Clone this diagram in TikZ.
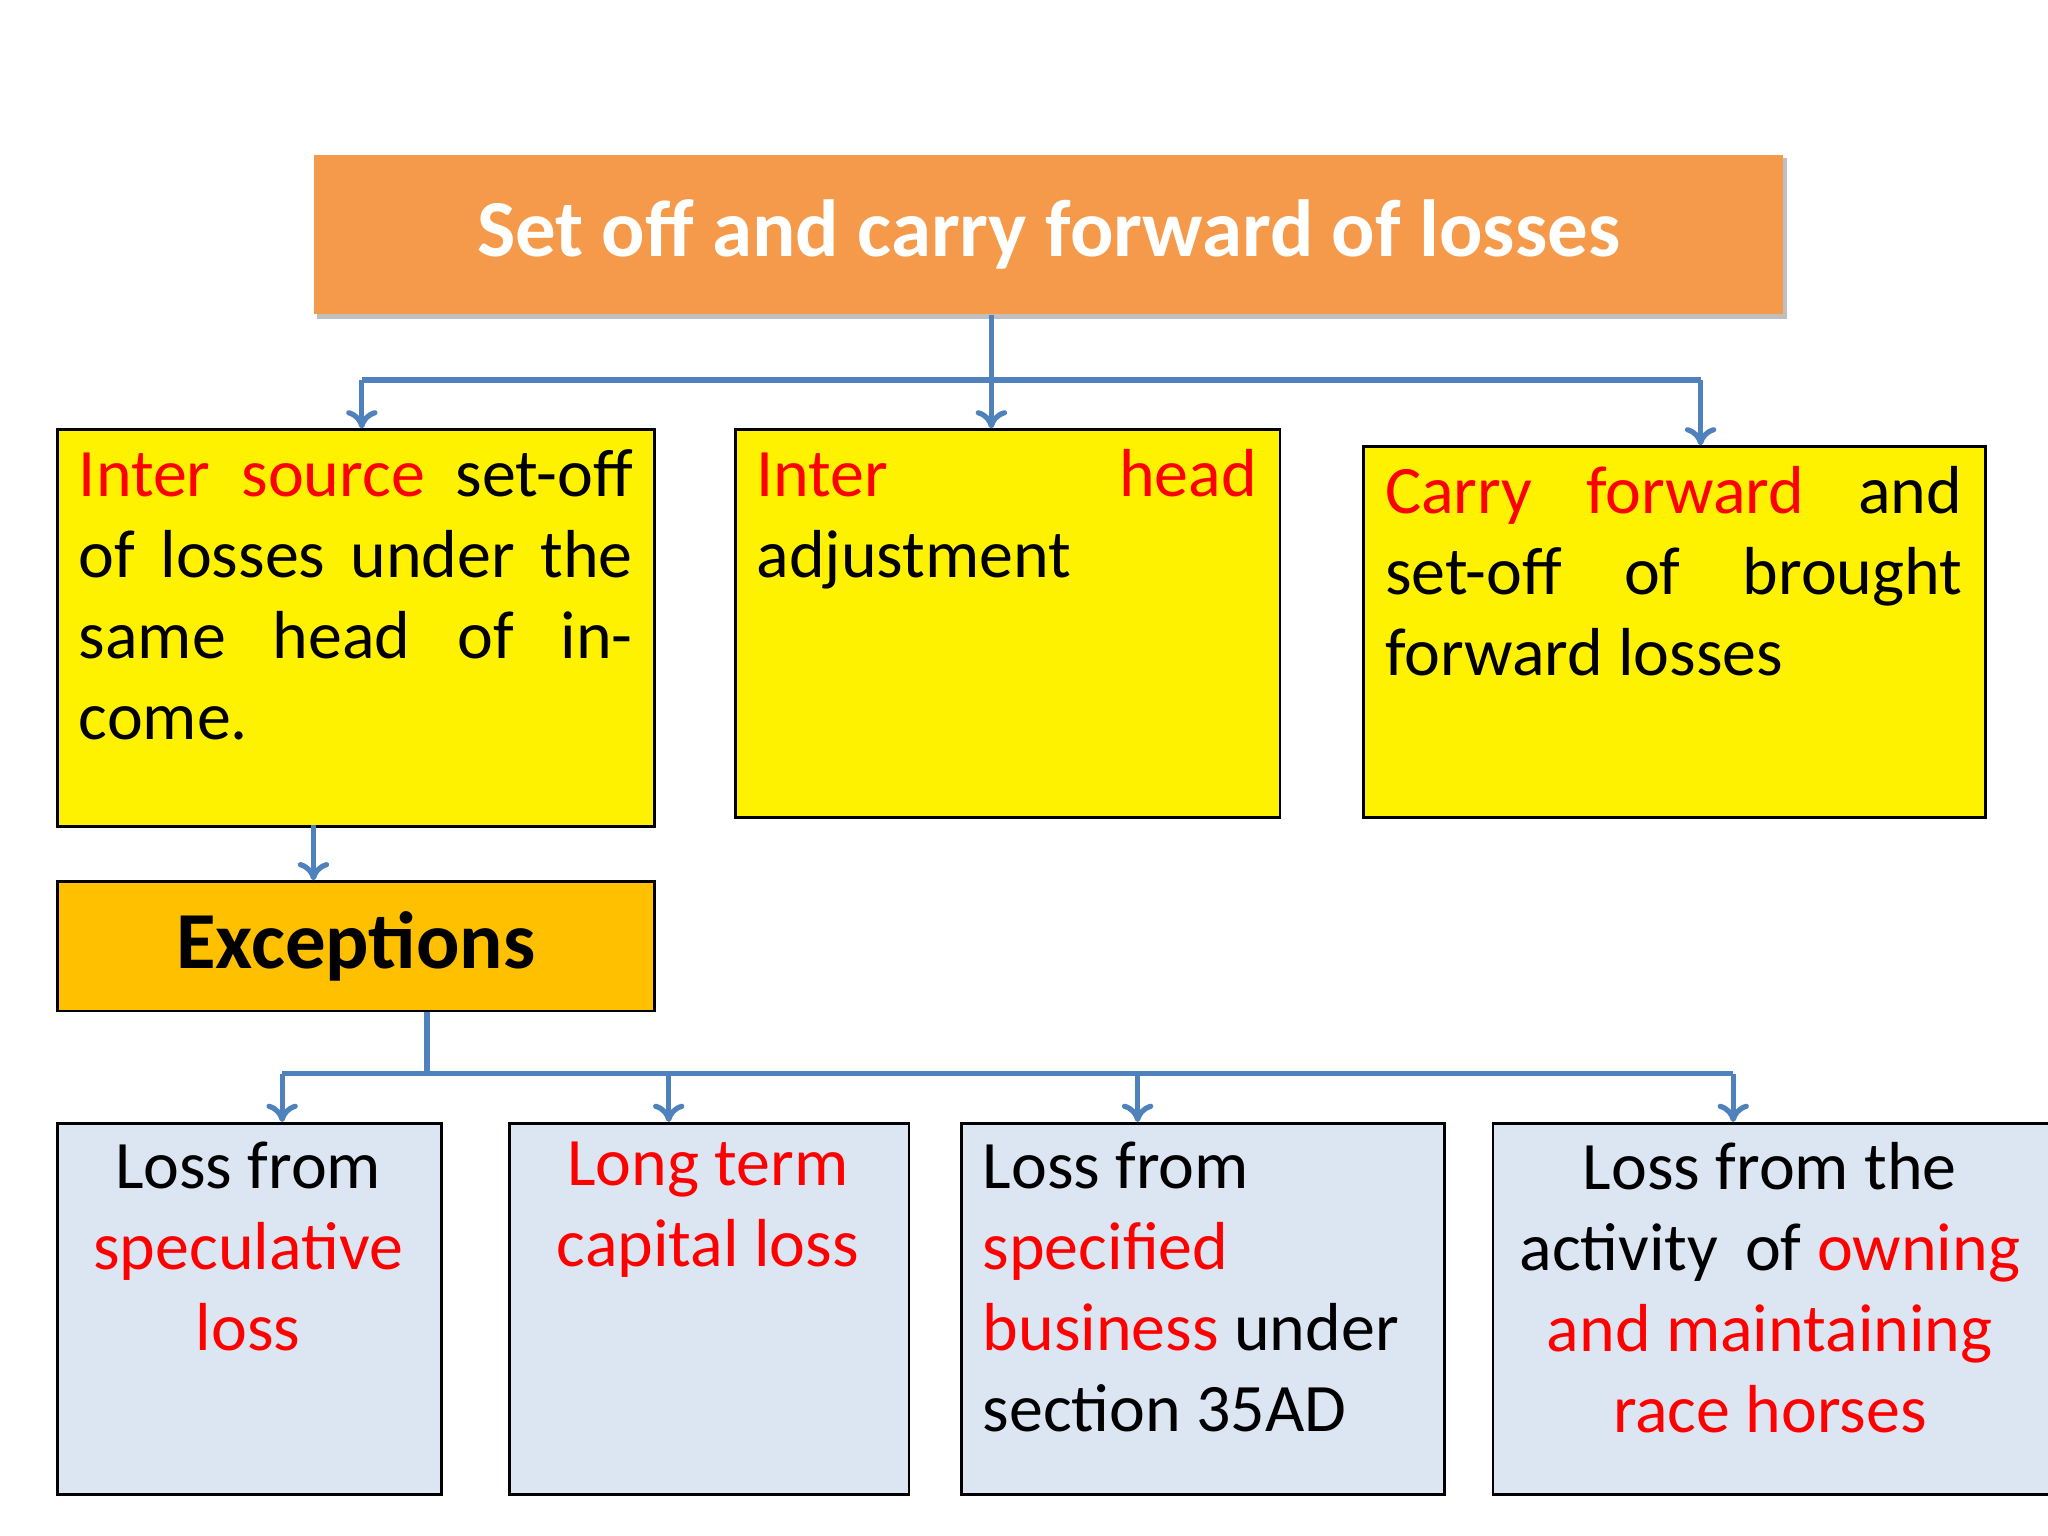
\documentclass[tikz,border=0pt]{standalone}
\usepackage{fontspec}
\setmainfont{Carlito}
\usetikzlibrary{arrows.meta}
\definecolor{org}{HTML}{F59A4A}
\definecolor{exc}{HTML}{FFC000}
\definecolor{lb}{HTML}{DCE6F2}
\definecolor{con}{HTML}{4F81BD}
\begin{document}
\begin{tikzpicture}[x=0.5pt,y=-0.5pt,
  box/.style={draw=black,line width=1pt,anchor=north west,inner sep=0pt},
  txt/.style={anchor=north west,inner sep=0pt,font=\fontsize{26}{31}\selectfont,align=justify},
  ctxt/.style={anchor=north,inner sep=0pt,font=\fontsize{26}{31}\selectfont,align=center},
  conn/.style={draw=con,line width=2pt},
  arr/.style={conn,-{To[length=7pt,width=12pt,line width=2pt]}}]
\useasboundingbox (0,0) rectangle (1568,1176);
\fill[white] (0,0) rectangle (1568,1176);
\fill[black!25] (243,121) rectangle (1368,244);
\node[anchor=north west,inner sep=0pt,fill=org,minimum width=562.5pt,minimum height=61pt,text=white,font=\bfseries\fontsize{31}{36}\selectfont] (title) at (240,118) {Set off and carry forward of losses};
\node[box,fill=yellow,minimum width=228.5pt,minimum height=152pt] (b1) at (43,328) {};
\node[box,fill=yellow,minimum width=208.5pt,minimum height=148.5pt] (b2) at (562,328) {};
\node[box,fill=yellow,minimum width=238pt,minimum height=142pt] (b3) at (1043,341) {};
\node[txt,text width=212pt] (t1) at (60,344) {\textcolor{red}{Inter source} set-off of losses under the same head of income.};
\node[txt,text width=191.5pt] (t2) at (579,344) {\textcolor{red}{Inter\hfill head}\\adjustment};
\node[txt,text width=221pt] (t3) at (1060,357) {\textcolor{red}{Carry forward} and set-off of brought forward losses};
\node[box,fill=exc,minimum width=228.5pt,minimum height=49.5pt,font=\bfseries\fontsize{31}{36}\selectfont] (ex) at (43,674) {Exceptions};
\node[box,fill=lb,minimum width=147pt,minimum height=142pt] (c1) at (43,859) {};
\node[box,fill=lb,minimum width=153pt,minimum height=142pt] (c2) at (389,859) {};
\node[box,fill=lb,minimum width=185pt,minimum height=142pt] (c3) at (735,859) {};
\node[box,fill=lb,minimum width=215pt,minimum height=142pt] (c4) at (1142,859) {};
\node[ctxt] (u1) at (190,874) {Loss from\\\textcolor{red}{speculative}\\\textcolor{red}{loss}};
\node[ctxt] (u2) at (542,874) {\textcolor{red}{Long term}\\\textcolor{red}{capital loss}};
\node[txt,align=left] (u3) at (752,874) {Loss from\\\textcolor{red}{specified}\\\textcolor{red}{business} under\\section 35AD};
\node[ctxt] (u4) at (1355,874) {Loss from the\\activity\, of \textcolor{red}{owning}\\\textcolor{red}{and maintaining}\\\textcolor{red}{race horses}};
% connectors
\coordinate (j1) at (759,291);
\coordinate (l1) at (277,291);
\coordinate (r1) at (1302,291);
\draw[conn] (title.south -| j1) -- (j1);
\draw[conn] (l1) -- (r1);
\draw[arr] (l1) -- (l1 |- b1.north);
\draw[arr] (j1) -- (j1 |- b2.north);
\draw[arr] (r1) -- (r1 |- b3.north);
\coordinate (e1) at (240,632);
\draw[arr] (e1) -- (e1 |- ex.north);
\coordinate (j2) at (327,822);
\coordinate (l2) at (216,822);
\coordinate (r2) at (1327,822);
\coordinate (m2) at (512,822);
\coordinate (n2) at (871,822);
\draw[conn] (j2 |- ex.south) -- (j2);
\draw[conn] (l2) -- (r2);
\draw[arr] (l2) -- (l2 |- c1.north);
\draw[arr] (m2) -- (m2 |- c2.north);
\draw[arr] (n2) -- (n2 |- c3.north);
\draw[arr] (r2) -- (r2 |- c4.north);
\end{tikzpicture}
\end{document}
